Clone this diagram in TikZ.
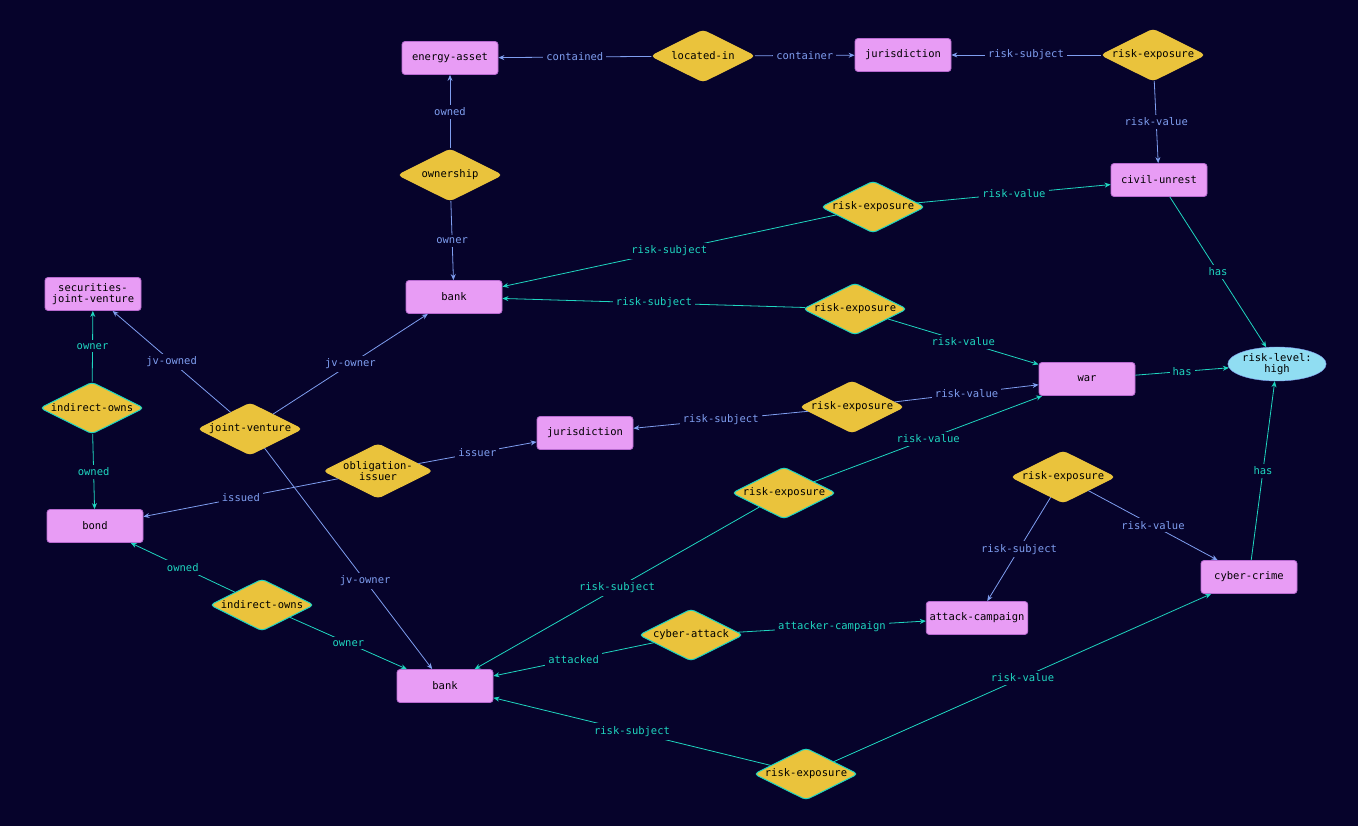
\documentclass[tikz,border=0pt]{standalone}
\usepackage{fontspec}
\setmonofont{DejaVu Sans Mono}
\usetikzlibrary{shapes.geometric,arrows.meta}
\definecolor{bg}{HTML}{06032B}
\definecolor{ent}{HTML}{E89CF5}
\definecolor{entb}{HTML}{B86AD0}
\definecolor{rel}{HTML}{EAC33C}
\definecolor{tl}{HTML}{1FD6C0}
\definecolor{bl}{HTML}{7F9EF0}
\definecolor{attr}{HTML}{90DDF2}
\tikzset{
 ent/.style={draw=entb,fill=ent,rounded corners=3pt,minimum width=96pt,minimum height=33pt,font=\ttfamily\fontsize{10.5}{11.5}\selectfont,text=black,align=center,line width=0.8pt},
 relp/.style={diamond,aspect=2,fill=rel,draw=rel,rounded corners=4pt,minimum width=104pt,minimum height=52pt,inner sep=0pt,font=\ttfamily\fontsize{10.5}{11.5}\selectfont,text=black,align=center,line width=1pt},
 relt/.style={relp,draw=tl},
 attrs/.style={ellipse,fill=attr,draw=bl,minimum width=96pt,minimum height=34pt,inner sep=0pt,font=\ttfamily\fontsize{10.5}{11.5}\selectfont,align=center},
 eb/.style={draw=bl,-{Stealth[length=6pt,width=5pt]},line width=0.8pt},
 et/.style={draw=tl,-{Stealth[length=6pt,width=5pt]},line width=0.8pt},
 lb/.style={midway,fill=bg,inner sep=3pt,font=\ttfamily\fontsize{10.5}{11.5}\selectfont,text=bl},
 lt/.style={midway,fill=bg,inner sep=3pt,font=\ttfamily\fontsize{10.5}{11.5}\selectfont,text=tl},
}
\begin{document}
\begin{tikzpicture}[x=1pt,y=-1pt]
\fill[bg] (0,0) rectangle (1358,826);
\useasboundingbox (0,0) rectangle (1358,826);
\node[ent] (ea) at (450,58) {energy-asset};
\node[relp] (li) at (703,56) {located-in};
\node[ent] (j1) at (903,55) {jurisdiction};
\node[relp] (ra) at (1153,55) {risk-exposure};
\node[ent] (cu) at (1159,180) {civil-unrest};
\node[relp] (ow) at (450,175) {ownership};
\node[relt] (rb) at (873,207) {risk-exposure};
\node[ent] (b1) at (454,297) {bank};
\node[ent] (sj) at (93,294) {securities-\\joint-venture};
\node[relt] (rc) at (855,309) {risk-exposure};
\node[attrs] (rl) at (1277,364) {risk-level:\\high};
\node[ent] (war) at (1087,379) {war};
\node[relt] (io1) at (92,408) {indirect-owns};
\node[relp] (jv) at (250,429) {joint-venture};
\node[relp] (rd) at (852,407) {risk-exposure};
\node[ent] (j2) at (585,433) {jurisdiction};
\node[relp] (oi) at (378,471) {obligation-\\issuer};
\node[relt] (re) at (784,493) {risk-exposure};
\node[relp] (rf) at (1063,477) {risk-exposure};
\node[ent] (bond) at (95,526) {bond};
\node[ent] (cc) at (1249,577) {cyber-crime};
\node[relt] (io2) at (262,605) {indirect-owns};
\node[ent] (ac) at (977,618) {attack-campaign};
\node[relt] (ca) at (691,635) {cyber-attack};
\node[ent] (b2) at (445,686) {bank};
\node[relt] (rg) at (806,774) {risk-exposure};

\draw[eb] (li) -- node[lb]{contained} (ea);
\draw[eb] (li) -- node[lb]{container} (j1);
\draw[eb] (ra) -- node[lb]{risk-subject} (j1);
\draw[eb] (ra) -- node[lb]{risk-value} (cu);
\draw[eb] (ow) -- node[lb]{owned} (ea);
\draw[eb] (ow) -- node[lb]{owner} (b1);
\draw[et] (rb) -- node[lt]{risk-value} (cu);
\draw[et] (rb) -- node[lt]{risk-subject} (b1);
\draw[et] (rc) -- node[lt]{risk-subject} (b1);
\draw[et] (rc) -- node[lt]{risk-value} (war);
\draw[et] (cu) -- node[lt]{has} (rl);
\draw[et] (war) -- node[lt]{has} (rl);
\draw[et] (cc) -- node[lt]{has} (rl);
\draw[et] (io1) -- node[lt]{owner} (sj);
\draw[et] (io1) -- node[lt]{owned} (bond);
\draw[eb] (jv) -- node[lb]{jv-owned} (sj);
\draw[eb] (jv) -- node[lb]{jv-owner} (b1);
\draw[eb] (jv) -- node[lb,pos=0.6]{jv-owner} (b2);
\draw[eb] (rd) -- node[lb]{risk-subject} (j2);
\draw[eb] (rd) -- node[lb]{risk-value} (war);
\draw[eb] (oi) -- node[lb]{issuer} (j2);
\draw[eb] (oi) -- node[lb]{issued} (bond);
\draw[et] (re) -- node[lt]{risk-value} (war);
\draw[et] (re) -- node[lt]{risk-subject} (b2);
\draw[eb] (rf) -- node[lb]{risk-subject} (ac);
\draw[eb] (rf) -- node[lb]{risk-value} (cc);
\draw[et] (io2) -- node[lt]{owned} (bond);
\draw[et] (io2) -- node[lt]{owner} (b2);
\draw[et] (ca) -- node[lt]{attacked} (b2);
\draw[et] (ca) -- node[lt]{attacker-campaign} (ac);
\draw[et] (rg) -- node[lt]{risk-subject} (b2);
\draw[et] (rg) -- node[lt]{risk-value} (cc);
\end{tikzpicture}
\end{document}
